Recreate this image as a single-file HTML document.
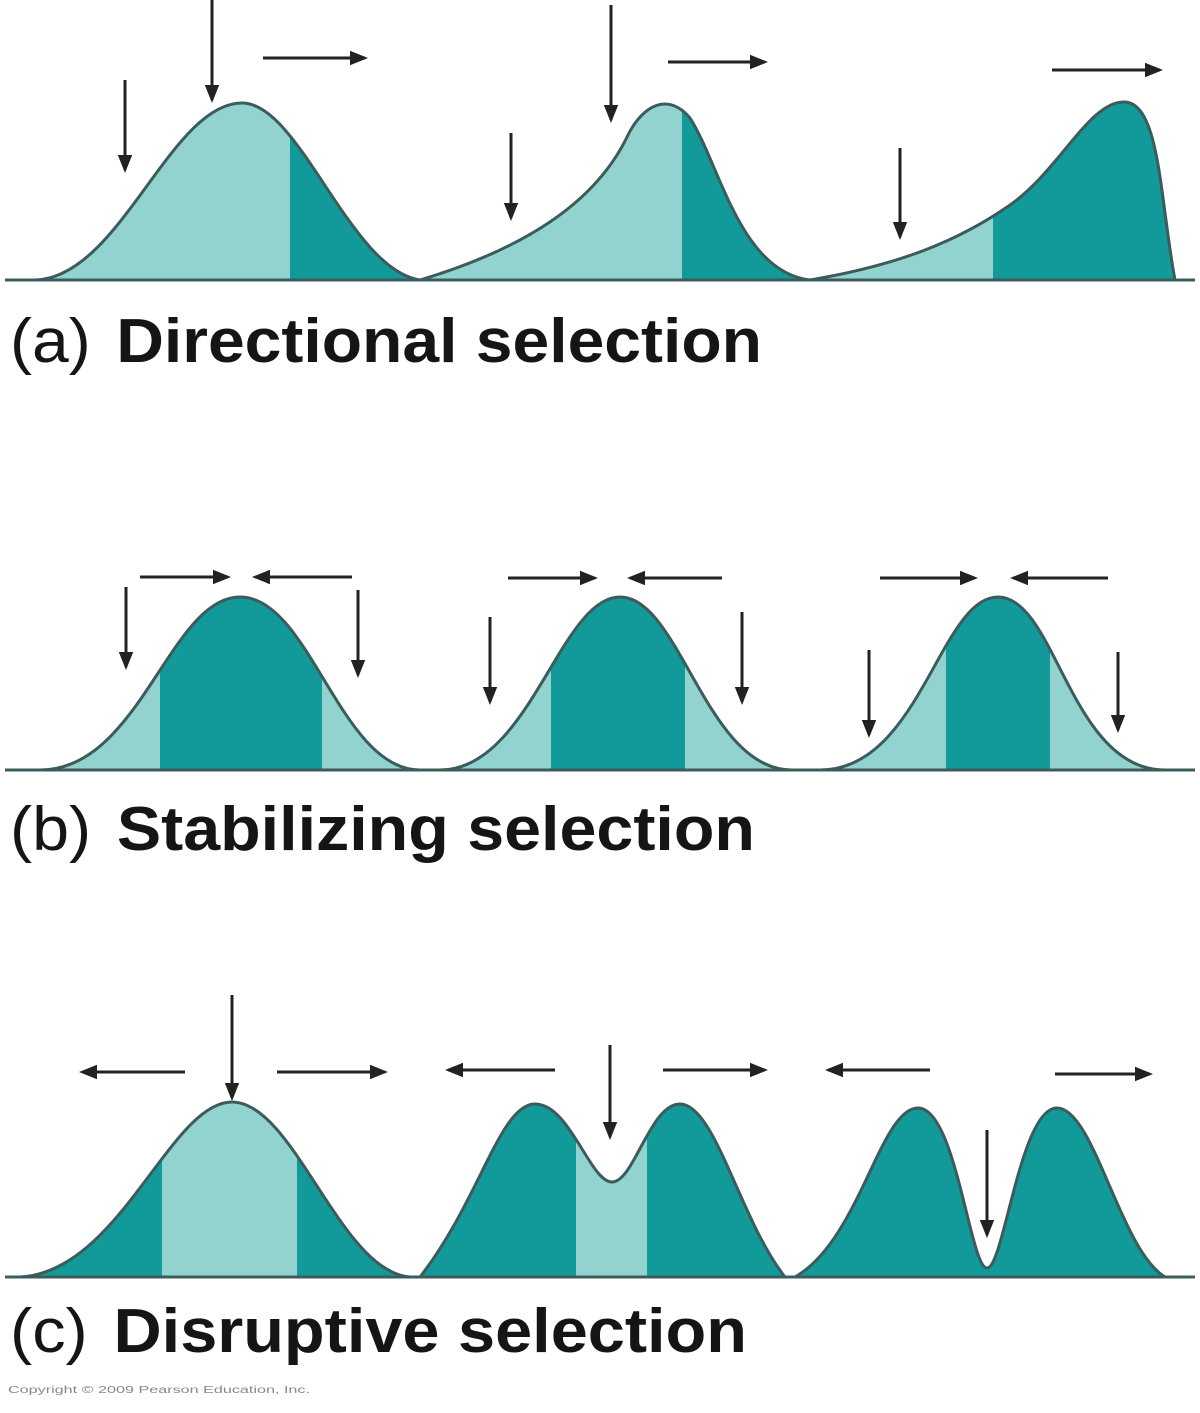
<!DOCTYPE html>
<html><head><meta charset="utf-8"><style>html,body{margin:0;padding:0;background:#fff}svg{display:block}</style></head>
<body>
<svg width="1200" height="1413" viewBox="0 0 1200 1413" xmlns="http://www.w3.org/2000/svg">
<defs>
<marker id="ah" markerWidth="6" markerHeight="6" refX="5" refY="3" orient="auto" markerUnits="strokeWidth">
<path d="M0,0.6 L6,3 L0,5.4 Z" fill="#222"/></marker>
<clipPath id="a1"><path d="M35,280 C120,278 170,103 242,103 C300,103 350,270 420,280 Z"/></clipPath>
<clipPath id="a2"><path d="M420,280 C520,250 595,205 628,135 C643,105 668,92 690,118 C720,165 740,272 810,280 Z"/></clipPath>
<clipPath id="a3"><path d="M810,280 C900,265 960,240 1010,205 C1060,170 1090,100 1125,102 C1160,104 1160,200 1175,280 Z"/></clipPath>
<clipPath id="b1"><path d="M40,770 C140,770 170,597 240,597 C310,597 340,770 420,770 Z"/></clipPath>
<clipPath id="b2"><path d="M440,770 C530,770 560,597 620,597 C680,597 706,770 792,770 Z"/></clipPath>
<clipPath id="b3"><path d="M820,770 C920,770 940,597 998,597 C1056,597 1070,770 1165,770 Z"/></clipPath>
<clipPath id="c1"><path d="M20,1277 C120,1272 170,1102 232,1102 C294,1102 340,1272 410,1277 Z"/></clipPath>
<clipPath id="c2"><path d="M420,1277 C480,1200 500,1104 535,1104 C570,1104 590,1182 612,1182 C634,1182 650,1104 680,1104 C715,1104 740,1220 785,1277 Z"/></clipPath>
</defs>
<g stroke="#3c5c5c" stroke-width="3" fill="#93d3cf">
<path d="M35,280 C120,278 170,103 242,103 C300,103 350,270 420,280 Z" stroke="none"/>
<rect x="290" y="90" width="140" height="192" fill="#12999a" stroke="none" clip-path="url(#a1)"/>
<path d="M35,280 C120,278 170,103 242,103 C300,103 350,270 420,280" fill="none"/>
<path d="M420,280 C520,250 595,205 628,135 C643,105 668,92 690,118 C720,165 740,272 810,280 Z" stroke="none"/>
<rect x="682" y="90" width="140" height="192" fill="#12999a" stroke="none" clip-path="url(#a2)"/>
<path d="M420,280 C520,250 595,205 628,135 C643,105 668,92 690,118 C720,165 740,272 810,280" fill="none"/>
<path d="M810,280 C900,265 960,240 1010,205 C1060,170 1090,100 1125,102 C1160,104 1160,200 1175,280 Z" stroke="none"/>
<rect x="993" y="90" width="200" height="192" fill="#12999a" stroke="none" clip-path="url(#a3)"/>
<path d="M810,280 C900,265 960,240 1010,205 C1060,170 1090,100 1125,102 C1160,104 1160,200 1175,280" fill="none"/>
<line x1="5" y1="280" x2="1195" y2="280"/>
<path d="M40,770 C140,770 170,597 240,597 C310,597 340,770 420,770 Z" stroke="none"/>
<rect x="160" y="590" width="162" height="182" fill="#12999a" stroke="none" clip-path="url(#b1)"/>
<path d="M40,770 C140,770 170,597 240,597 C310,597 340,770 420,770" fill="none"/>
<path d="M440,770 C530,770 560,597 620,597 C680,597 706,770 792,770 Z" stroke="none"/>
<rect x="551" y="590" width="134" height="182" fill="#12999a" stroke="none" clip-path="url(#b2)"/>
<path d="M440,770 C530,770 560,597 620,597 C680,597 706,770 792,770" fill="none"/>
<path d="M820,770 C920,770 940,597 998,597 C1056,597 1070,770 1165,770 Z" stroke="none"/>
<rect x="946" y="590" width="104" height="182" fill="#12999a" stroke="none" clip-path="url(#b3)"/>
<path d="M820,770 C920,770 940,597 998,597 C1056,597 1070,770 1165,770" fill="none"/>
<line x1="5" y1="770" x2="1195" y2="770"/>
<path d="M20,1277 C120,1272 170,1102 232,1102 C294,1102 340,1272 410,1277 Z" fill="#12999a" stroke="none"/>
<rect x="162" y="1095" width="135" height="184" fill="#93d3cf" stroke="none" clip-path="url(#c1)"/>
<path d="M20,1277 C120,1272 170,1102 232,1102 C294,1102 340,1272 410,1277" fill="none"/>
<path d="M420,1277 C480,1200 500,1104 535,1104 C570,1104 590,1182 612,1182 C634,1182 650,1104 680,1104 C715,1104 740,1220 785,1277 Z" fill="#12999a" stroke="none"/>
<rect x="576" y="1095" width="71" height="184" fill="#93d3cf" stroke="none" clip-path="url(#c2)"/>
<path d="M420,1277 C480,1200 500,1104 535,1104 C570,1104 590,1182 612,1182 C634,1182 650,1104 680,1104 C715,1104 740,1220 785,1277" fill="none"/>
<path d="M795,1277 C860,1240 880,1108 918,1108 C956,1108 970,1268 987,1268 C1004,1268 1020,1108 1057,1108 C1094,1108 1120,1250 1165,1277" fill="#12999a"/>
<line x1="5" y1="1277" x2="1195" y2="1277"/>
</g>
<g stroke="#222" stroke-width="3" marker-end="url(#ah)">
<line x1="125" y1="80" x2="125" y2="170"/>
<line x1="212" y1="0" x2="212" y2="100"/>
<line x1="263" y1="58" x2="365" y2="58"/>
<line x1="511" y1="133" x2="511" y2="218"/>
<line x1="611" y1="5" x2="611" y2="120"/>
<line x1="668" y1="62" x2="765" y2="62"/>
<line x1="900" y1="148" x2="900" y2="237"/>
<line x1="1052" y1="70" x2="1160" y2="70"/>
<line x1="140" y1="577" x2="228" y2="577"/>
<line x1="352" y1="577" x2="255" y2="577"/>
<line x1="126" y1="587" x2="126" y2="667"/>
<line x1="358" y1="590" x2="358" y2="675"/>
<line x1="508" y1="578" x2="595" y2="578"/>
<line x1="722" y1="578" x2="630" y2="578"/>
<line x1="490" y1="617" x2="490" y2="702"/>
<line x1="742" y1="612" x2="742" y2="702"/>
<line x1="880" y1="578" x2="975" y2="578"/>
<line x1="1108" y1="578" x2="1013" y2="578"/>
<line x1="869" y1="650" x2="869" y2="735"/>
<line x1="1118" y1="652" x2="1118" y2="730"/>
<line x1="185" y1="1072" x2="82" y2="1072"/>
<line x1="232" y1="995" x2="232" y2="1098"/>
<line x1="277" y1="1072" x2="385" y2="1072"/>
<line x1="555" y1="1070" x2="448" y2="1070"/>
<line x1="610" y1="1045" x2="610" y2="1137"/>
<line x1="663" y1="1070" x2="765" y2="1070"/>
<line x1="930" y1="1070" x2="828" y2="1070"/>
<line x1="987" y1="1130" x2="987" y2="1235"/>
<line x1="1055" y1="1074" x2="1150" y2="1074"/>
</g>
<g font-family="Liberation Sans, sans-serif" font-size="62" fill="#151515">
<text x="10" y="362" textLength="752" lengthAdjust="spacingAndGlyphs"><tspan>(a)</tspan><tspan font-weight="bold" dx="24">Directional selection</tspan></text>
<text x="10" y="850" textLength="745" lengthAdjust="spacingAndGlyphs"><tspan>(b)</tspan><tspan font-weight="bold" dx="24">Stabilizing selection</tspan></text>
<text x="10" y="1352" textLength="737" lengthAdjust="spacingAndGlyphs"><tspan>(c)</tspan><tspan font-weight="bold" dx="24">Disruptive selection</tspan></text>
</g>
<text x="8" y="1393" font-family="Liberation Sans, sans-serif" font-size="10" fill="#888" textLength="302" lengthAdjust="spacingAndGlyphs">Copyright © 2009 Pearson Education, Inc.</text>
</svg>
</body></html>
